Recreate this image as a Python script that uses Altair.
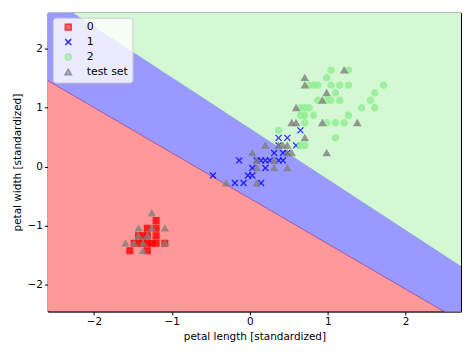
import altair as alt
import pandas as pd

# ---- axis extents (standardized units) ----
x_range = [-2.59, 2.71]
y_range = [-2.45, 2.61]

# ---- decision boundaries (read at the left/right edges) ----
boundary_x = [-2.59, 2.71]
boundary_red_blue = [1.46, -2.62]
boundary_blue_green = [2.88, -1.69]

# ---- training samples, class 0 ----
c0_x = [-1.538, -1.314, -1.482, -1.426, -1.370, -1.314, -1.257, -1.201, -1.426,
        -1.370, -1.201, -1.314, -1.201, -1.201, -1.089, -1.314]
c0_y = [-1.422, -1.422, -1.294, -1.294, -1.294, -1.294, -1.294, -1.294, -1.167,
        -1.167, -1.167, -1.040, -1.040, -0.912, -1.294, -1.167]

# ---- training samples, class 1 ----
c1_x = [-0.472, -0.191, -0.079, -0.135, -0.023, 0.145, 0.033, 0.033, 0.201, 0.145,
        0.201, 0.257, 0.313, 0.370, 0.426, 0.426, 0.370, 0.482, 0.594, 0.650,
        0.089, 0.482, 0.370]
c1_y = [-0.147, -0.275, -0.275, 0.108, -0.147, -0.275, -0.020, -0.147, -0.020, 0.108,
        0.108, 0.108, 0.235, 0.108, 0.108, 0.235, 0.490, 0.490, 0.362, 0.617,
        0.108, 0.235, 0.362]

# ---- training samples, class 2 ----
c2_x = [1.043, 1.267, 0.987, 0.762, 0.818, 0.874, 1.043, 1.155, 1.267, 1.716,
        1.099, 1.604, 0.874, 0.987, 1.043, 1.155, 1.548, 0.650, 0.706, 0.762,
        1.435, 1.604, 0.650, 0.706, 0.818, 1.267, 0.706, 0.987, 1.099, 1.211,
        0.370, 1.099, 0.706, 0.650]
c2_y = [1.637, 1.637, 1.509, 1.382, 1.382, 1.382, 1.382, 1.382, 1.382, 1.382,
        1.254, 1.254, 1.127, 1.127, 1.127, 1.127, 1.127, 1.000, 1.000, 1.000,
        1.000, 1.000, 0.872, 0.872, 0.872, 0.872, 0.745, 0.745, 0.745, 0.745,
        0.617, 0.490, 0.362, 0.362]

# ---- test set ----
test_x = [-1.257, -1.426, -1.257, -1.089, -1.426, -1.314, -1.594, -1.370, -1.089,
          -1.370, -1.482,
          -0.304, 0.089, 0.033, 0.089, 0.089, 0.201, 0.313, 0.313, 0.482, 0.370,
          0.426, 0.482, 0.482, 0.538, 0.706,
          1.211, 0.706, 0.706, 0.987, 0.931, 0.594, 0.538, 0.594, 0.931, 1.379,
          0.987]
test_y = [-0.785, -1.040, -1.040, -1.040, -1.167, -1.167, -1.294, -1.294, -1.294,
          -1.422, -1.294,
          -0.275, -0.275, 0.235, 0.108, -0.020, 0.362, 0.108, -0.020, -0.020, 0.362,
          0.362, 0.362, 0.235, 0.235, 0.490,
          1.637, 1.509, 1.382, 1.254, 1.127, 1.000, 0.745, 0.745, 0.745, 0.745,
          0.235]

labels = ["0", "1", "2", "test set"]
x_path = "M-1,-1L1,1M-1,1L1,-1"
shapes = ["square", x_path, "circle", "triangle-up"]
fills = ["red", "blue", "lightgreen", "gray"]
sizes = [34, 40, 40, 64]
opacities = [0.8, 0.8, 0.8, 1.0]

# ---- tables ----
reg_rows = []
for i in range(2):
    reg_rows.append({"x": boundary_x[i], "lo": y_range[0], "hi": boundary_red_blue[i], "region": "r"})
    reg_rows.append({"x": boundary_x[i], "lo": boundary_red_blue[i], "hi": boundary_blue_green[i], "region": "b"})
    reg_rows.append({"x": boundary_x[i], "lo": boundary_blue_green[i], "hi": y_range[1], "region": "g"})
regions = pd.DataFrame(reg_rows)

bnd = pd.DataFrame({
    "x": boundary_x * 2,
    "y": boundary_red_blue + boundary_blue_green,
    "line": ["rb", "rb", "bg", "bg"],
})

pts = pd.concat([
    pd.DataFrame({"x": c0_x, "y": c0_y, "label": "0"}),
    pd.DataFrame({"x": c1_x, "y": c1_y, "label": "1"}),
    pd.DataFrame({"x": c2_x, "y": c2_y, "label": "2"}),
    pd.DataFrame({"x": test_x, "y": test_y, "label": "test set"}),
], ignore_index=True)
pts["idx"] = range(len(pts))

xs = alt.Scale(domain=x_range, nice=False, zero=False)
ys = alt.Scale(domain=y_range, nice=False, zero=False)
xax = alt.Axis(title="petal length [standardized]", values=[-2, -1, 0, 1, 2], format="d", grid=False)
yax = alt.Axis(title="petal width [standardized]", values=[-2, -1, 0, 1, 2], format="d", grid=False)

region_colors = {"r": "#ff9999", "b": "#9999ff", "g": "#d3f8d3"}
layers = []
for key, col in region_colors.items():
    layers.append(
        alt.Chart(regions).transform_filter(alt.datum.region == key)
        .mark_area(color=col, opacity=1, clip=True)
        .encode(
            x=alt.X("x:Q", scale=xs, axis=xax),
            y=alt.Y("lo:Q", scale=ys, axis=yax, stack=None),
            y2="hi:Q",
        )
    )

line_colors = {"rb": "#9a3a9a", "bg": "#7f9fe6"}
for key, col in line_colors.items():
    layers.append(
        alt.Chart(bnd).transform_filter(alt.datum.line == key)
        .mark_line(color=col, strokeWidth=0.8, clip=True)
        .encode(x=alt.X("x:Q", scale=xs), y=alt.Y("y:Q", scale=ys))
    )

leg = alt.Legend(
    title=None, orient="top-left", offset=5, padding=4,
    fillColor="rgba(255,255,255,0.8)", strokeColor="#cccccc", cornerRadius=3,
    labelFontSize=11, labelFont="DejaVu Sans", labelColor="black",
    rowPadding=2, labelOffset=13, symbolOffset=6, symbolStrokeWidth=1.5,
)

points = alt.Chart(pts).mark_point(filled=True, strokeWidth=1.3, clip=True).encode(
    x=alt.X("x:Q", scale=xs),
    y=alt.Y("y:Q", scale=ys),
    shape=alt.Shape("label:N", scale=alt.Scale(domain=labels, range=shapes), legend=leg),
    fill=alt.Fill("label:N", scale=alt.Scale(domain=labels, range=fills), legend=leg),
    stroke=alt.Stroke("label:N", scale=alt.Scale(domain=labels, range=fills), legend=leg),
    opacity=alt.Opacity("label:N", scale=alt.Scale(domain=labels, range=opacities), legend=leg),
    size=alt.Size("label:N", scale=alt.Scale(domain=labels, range=sizes), legend=leg),
    order=alt.Order("idx:Q"),
)
layers.append(points)

chart = alt.layer(*layers).properties(
    width=415, height=300,
    padding={"left": 5, "top": 4, "right": 5, "bottom": 5},
).configure_view(
    stroke="black", strokeWidth=1
).configure_axis(
    labelFont="DejaVu Sans", titleFont="DejaVu Sans",
    labelFontSize=10.5, titleFontSize=10.5, titleFontWeight="normal",
    labelColor="black", titleColor="black",
    domainColor="black", tickColor="black", tickSize=3.5, labelPadding=2,
)

chart.save("out.html", embed_options={"renderer": "svg", "actions": False})
